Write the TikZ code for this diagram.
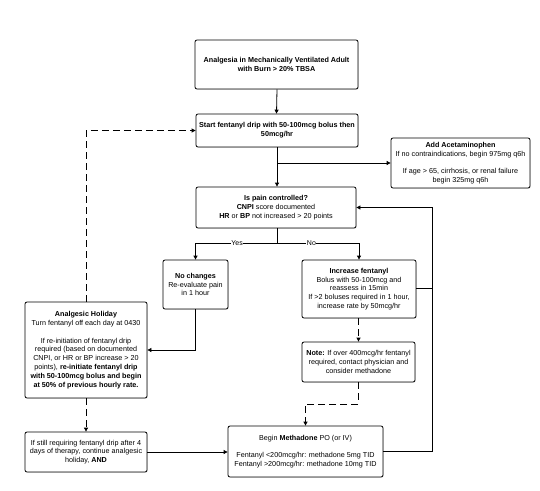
\documentclass[tikz,border=0pt]{standalone}
\usepackage{fontspec}
\setmainfont{Liberation Sans}
\usetikzlibrary{arrows.meta,shadows}
\begin{document}
\begin{tikzpicture}[x=1pt,y=-1pt,
  box/.style={draw=black,line width=0.8pt,rounded corners=2pt,fill=white,align=center,inner sep=1pt,
    font=\fontsize{7.2}{8.8}\selectfont,
    drop shadow={opacity=0.18,shadow xshift=0.8pt,shadow yshift=-0.8pt}},
  conn/.style={line width=0.8pt,draw=black},
  arr/.style={conn,-{Triangle[length=4pt,width=4pt]}},
  dsh/.style={dash pattern=on 7pt off 4pt},
  lbl/.style={fill=white,inner sep=0.5pt,font=\fontsize{7}{8}\selectfont}]
\path[use as bounding box,fill=white] (0,0) rectangle (540,490);

\node[box,minimum width=163pt,minimum height=49pt] (title) at (276.5,64.5)
  {\textbf{Analgesia in Mechanically Ventilated Adult}\\\textbf{with Burn > 20\% TBSA}};
\node[box,minimum width=162pt,minimum height=33pt] (start) at (277,130.5)
  {\textbf{Start fentanyl drip with 50-100mcg bolus then}\\\textbf{50mcg/hr}};
\node[box,minimum width=139pt,minimum height=50pt] (aceta) at (460.5,163)
  {\textbf{Add Acetaminophen}\\If no contraindications, begin 975mg q6h\\[8.8pt]If age > 65, cirrhosis, or renal failure\\begin 325mg q6h};
\node[box,minimum width=160pt,minimum height=41pt] (pain) at (276,207.5)
  {\textbf{Is pain controlled?}\\\textbf{CNPI} score documented\\\textbf{HR} or \textbf{BP} not increased > 20 points};
\node[box,minimum width=65pt,minimum height=49pt] (nochange) at (195.5,284.5)
  {\textbf{No changes}\\Re-evaluate pain\\in 1 hour};
\node[box,minimum width=114pt,minimum height=58pt] (incr) at (359,289)
  {\textbf{Increase fentanyl}\\Bolus with 50-100mcg and\\reassess in 15min\\If >2 boluses required in 1 hour,\\increase rate by 50mcg/hr};
\node[box,minimum width=122pt,minimum height=96pt] (holiday) at (86,350)
  {\textbf{Analgesic Holiday}\\Turn fentanyl off each day at 0430\\[8.8pt]If re-initiation of fentanyl drip\\required (based on documented\\CNPI, or HR or BP increase > 20\\points), \textbf{re-initiate fentanyl drip}\\\textbf{with 50-100mcg bolus and begin}\\\textbf{at 50\% of previous hourly rate.}};
\node[box,minimum width=113pt,minimum height=40pt] (note) at (358.5,362)
  {\textbf{Note:} If over 400mcg/hr fentanyl\\required, contact physician and\\consider methadone};
\node[box,minimum width=122pt,minimum height=40pt] (cont) at (86,452)
  {If still requiring fentanyl drip after 4\\days of therapy, continue analgesic\\holiday, \textbf{AND}};
\node[box,minimum width=155pt,minimum height=51pt] (meth) at (305.5,451.5)
  {Begin \textbf{Methadone} PO (or IV)\\[8.8pt]Fentanyl <200mcg/hr: methadone 5mg TID\\Fentanyl >200mcg/hr: methadone 10mg TID};

\coordinate (br1) at (277,163);
\coordinate (br2) at (277,243);
\coordinate (rl) at (432,288);
\coordinate (rb) at (432,451.5);
\coordinate (dn) at (358.5,404);
\coordinate (dh) at (86,130.5);

\draw[arr] (title.south -| start.north) -- (start.north -| title.south);
\draw[arr] (start.south -| br1) -- (pain.north -| br1);
\draw[arr] (br1) -- (aceta.west |- br1);
\draw[conn] (pain.south -| br2) -- (br2);
\draw[arr] (br2) -| (nochange.north) node[lbl,pos=0.245] {Yes};
\draw[arr] (br2) -| (incr.north) node[lbl,pos=0.21] {No};
\draw[arr] (nochange.south) |- (holiday.east);
\draw[conn] (incr.east |- rl) -- (rl);
\draw[arr] (meth.east) -- (rb) -- (rb |- pain.east) -- (pain.east);
\draw[arr,dsh] (incr.south -| note.north) -- (note.north);
\draw[arr,dsh] (note.south) -- (dn) -| (meth.north);
\draw[arr,dsh] (holiday.north) -- (dh) -- (start.west);
\draw[arr,dsh] (holiday.south) -- (cont.north);
\draw[arr] (cont.east) -- (cont.east -| meth.west);
\end{tikzpicture}
\end{document}
